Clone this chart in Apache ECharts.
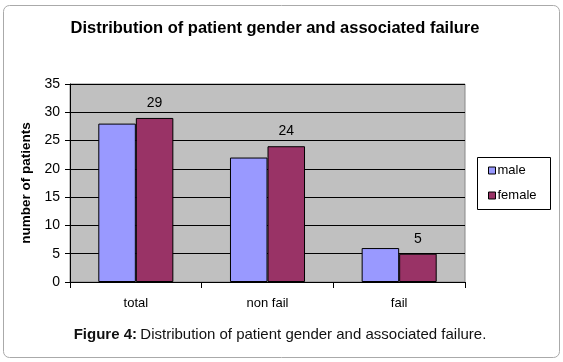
<!DOCTYPE html>
<html><head><meta charset="utf-8">
<script src="https://cdn.jsdelivr.net/npm/echarts@6/dist/echarts.min.js"></script>
<style>html,body{margin:0;padding:0;background:#fff}#c{width:563px;height:362px}</style>
</head><body><div id="c"></div>
<script>
const categories = ['total', 'non fail', 'fail'];
const maleValues = [28, 22, 6];
const femaleValues = [29, 24, 5];
const yTicks = [0, 5, 10, 15, 20, 25, 30, 35];

const chart = echarts.init(document.getElementById('c'), null, {renderer: 'canvas'});
const F = '"Liberation Sans", Arial, sans-serif';
chart.setOption({
  animation: false,
  backgroundColor: '#fff',
  graphic: [
    {type: 'rect', shape: {x: 3.5, y: 5.5, width: 556, height: 352, r: 6}, style: {fill: 'none', stroke: '#aaa', lineWidth: 1}, z: -1},
    {type: 'text', style: {text: 'Distribution of patient gender and associated failure', x: 275, y: 28, align: 'center', verticalAlign: 'middle', fontFamily: F, fontSize: 16.5, fontWeight: 'bold', fill: '#000'}},
    {type: 'rect', shape: {x: 477.5, y: 157.5, width: 73, height: 52}, style: {fill: '#fff', stroke: '#000', lineWidth: 1}, z: 1},
    {type: 'text', style: {rich: {b: {fontFamily: F, fontSize: 15, fontWeight: 'bold', fill: '#111'}, n: {fontFamily: F, fontSize: 15, fill: '#111'}}, text: '{b|Figure 4:} {n|Distribution of patient gender and associated failure.}', x: 280, y: 335, align: 'center', verticalAlign: 'middle'}}
  ],
  legend: {
    orient: 'vertical', left: 483, top: 159,
    itemWidth: 7, itemHeight: 7, itemGap: 12,
    icon: 'rect',
    textStyle: {fontFamily: F, fontSize: 13, color: '#000', padding: [0, 0, 0, -3]},
    itemStyle: {borderColor: '#000', borderWidth: 1},
    data: ['male', 'female'], z: 3
  },
  grid: {left: 70, top: 84, right: 98, bottom: 80, show: true, backgroundColor: '#C0C0C0', borderColor: '#888', borderWidth: 1},
  xAxis: {
    type: 'category', data: categories,
    axisLine: {lineStyle: {color: '#000'}},
    axisTick: {show: true, length: 6, lineStyle: {color: '#000'}},
    axisLabel: {fontFamily: F, fontSize: 13, color: '#000', margin: 15}
  },
  yAxis: {
    type: 'value', min: 0, max: 35, interval: 5,
    name: 'number of patients', nameLocation: 'middle', nameGap: 35, nameRotate: 90,
    nameTextStyle: {fontFamily: F, fontSize: 13.5, fontWeight: 'bold', color: '#000'},
    axisLine: {show: true, lineStyle: {color: '#000'}},
    axisTick: {show: true, length: 5, lineStyle: {color: '#000'}},
    axisLabel: {fontFamily: F, fontSize: 14, color: '#000', margin: 10,
      formatter: v => yTicks.includes(v) ? String(v) : ''},
    splitLine: {show: true, lineStyle: {color: '#000', width: 1}}
  },
  series: [
    {name: 'male', type: 'bar', data: maleValues, barGap: '0%', barCategoryGap: '43%',
     itemStyle: {color: '#9999FF', borderColor: '#000', borderWidth: 1}},
    {name: 'female', type: 'bar', data: femaleValues,
     itemStyle: {color: '#993366', borderColor: '#000', borderWidth: 1},
     label: {show: true, position: 'top', distance: 8, fontFamily: F, fontSize: 14, color: '#000'}}
  ]
});
</script></body></html>
